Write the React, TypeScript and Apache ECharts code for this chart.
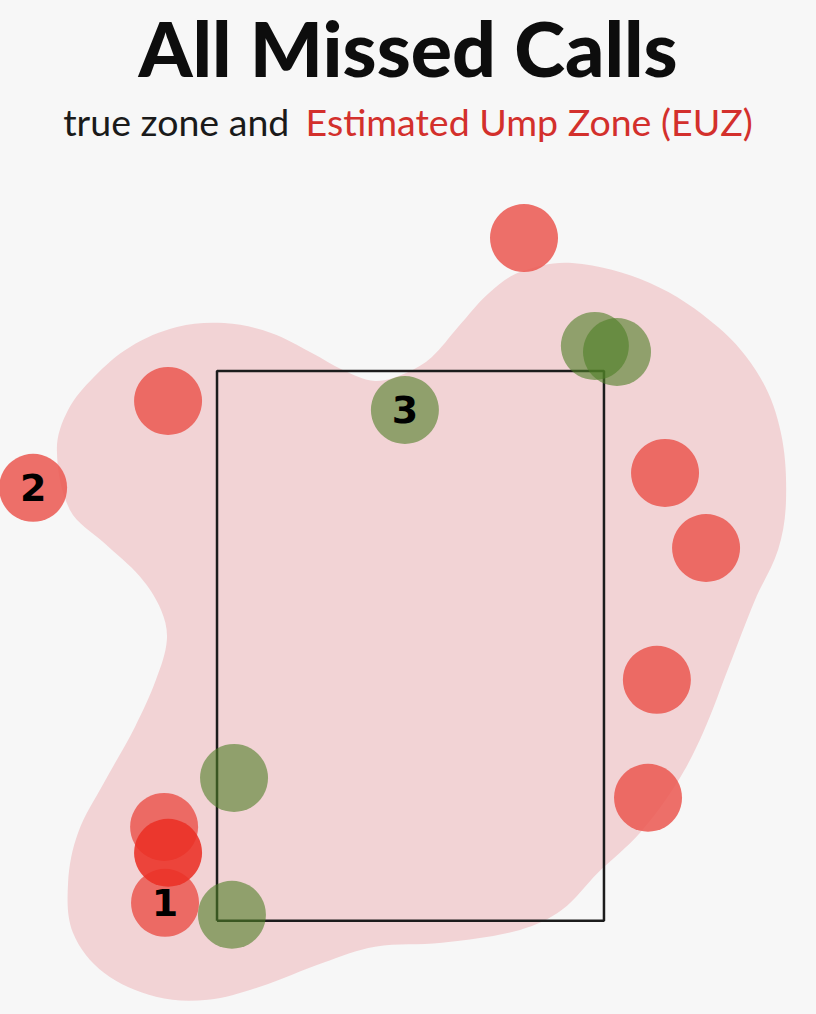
import React, { useEffect, useRef } from "react";
import * as echarts from "echarts";

// Estimated Ump Zone outline (plate x in ft, height in ft)
const euzX = [0.693, 1.027, 1.319, 1.499, 1.589, 1.611, 1.577, 1.478, 1.366, 1.255, 1.143, 0.985, 0.804, 0.650, 0.470, 0.135, -0.152, -0.375, -0.646, -0.869, -1.092, -1.315, -1.448, -1.469, -1.426, -1.315, -1.182, -1.092, -1.045, -1.070, -1.160, -1.315, -1.461, -1.517, -1.469, -1.358, -1.203, -1.002, -0.800, -0.598, -0.423, -0.290, -0.152, -0.019, 0.092, 0.204, 0.337, 0.470];
const euzY = [4.323, 4.237, 4.048, 3.834, 3.594, 3.306, 3.092, 2.877, 2.590, 2.307, 2.092, 1.878, 1.706, 1.547, 1.461, 1.406, 1.389, 1.320, 1.217, 1.161, 1.174, 1.277, 1.449, 1.663, 1.878, 2.092, 2.332, 2.534, 2.706, 2.834, 2.976, 3.122, 3.263, 3.521, 3.692, 3.834, 3.963, 4.048, 4.065, 4.023, 3.937, 3.864, 3.817, 3.851, 3.920, 4.048, 4.194, 4.284];

// True strike zone corners
const zoneX = [-0.83, 0.83];
const zoneY = [1.5, 3.86];

// Missed calls: called strikes outside zone (red)
const redX = [0.487, -1.040, -1.619, 1.092, 1.268, 1.057, 1.019, -1.057, -1.053, -1.040];
const redY = [4.430, 3.731, 3.358, 3.422, 3.100, 2.534, 2.028, 1.903, 1.577, 1.792];
const redLabels = ["", "", "2", "", "", "", "", "", "1", ""];
const redBright = [false, false, false, false, false, false, false, false, false, true];

// Missed calls: called balls inside zone (green)
const greenX = [0.791, 0.886, -0.024, -0.757, -0.766];
const greenY = [3.967, 3.941, 3.692, 2.113, 1.526];
const greenLabels = ["", "", "3", "", ""];

export default function App() {
  const ref = useRef<HTMLDivElement>(null);
  useEffect(() => {
    document.body.style.margin = "0";
    if (!ref.current) return;
    const chart = echarts.init(ref.current, undefined, { renderer: "svg" });
    const labelStyle = {
      position: "inside",
      formatter: (p: any) => p.data.lbl,
      fontFamily: "DejaVu Sans",
      fontWeight: "bold",
      fontSize: 38,
      color: "#000",
      opacity: 1,
    };
    const redData = redX.map((x, i) => ({
      value: [x, redY[i]],
      lbl: redLabels[i],
      label: { show: redLabels[i] !== "" },
      itemStyle: redBright[i]
        ? { color: "rgb(234,48,38)", opacity: 0.88 }
        : undefined,
    }));
    const greenData = greenX.map((x, i) => ({
      value: [x, greenY[i]],
      lbl: greenLabels[i],
      label: { show: greenLabels[i] !== "" },
    }));
    const rect = [
      [zoneX[0], zoneY[0]],
      [zoneX[1], zoneY[0]],
      [zoneX[1], zoneY[1]],
      [zoneX[0], zoneY[1]],
      [zoneX[0], zoneY[0]],
    ];
    chart.setOption({
      animation: false,
      backgroundColor: "#f7f7f7",
      title: {
        text: "All Missed Calls",
        left: "center",
        top: 3,
        itemGap: 17,
        textStyle: {
          fontFamily: "Lato",
          fontWeight: 900,
          fontSize: 77,
          color: "#0d0d0d",
        },
        subtext: "{a|true zone and }  {b|Estimated Ump Zone (EUZ)}",
        subtextStyle: {
          rich: {
            a: { fontFamily: "Lato", fontSize: 37.5, color: "#1a1a1a" },
            b: { fontFamily: "Lato", fontSize: 37.5, color: "#d3302c" },
          },
        },
      },
      grid: { left: 0, right: 0, top: 160, bottom: 0 },
      xAxis: { type: "value", min: -1.761, max: 1.7396, show: false },
      yAxis: { type: "value", min: 1.1, max: 4.765, show: false },
      series: [
        {
          type: "custom",
          z: 1,
          clip: false,
          data: [[0, 0]],
          renderItem: (_p: any, api: any) => ({
            type: "polygon",
            shape: {
              points: euzX.map((x, i) => api.coord([x, euzY[i]])),
              smooth: 0.35,
            },
            style: { fill: "#f2d3d5" },
          }),
        },
        {
          type: "line",
          z: 2,
          data: rect,
          symbol: "none",
          lineStyle: { color: "#1c1c1c", width: 2.5 },
        },
        {
          type: "scatter",
          z: 3,
          symbolSize: 68,
          data: redData,
          itemStyle: { color: "rgb(235,87,80)", opacity: 0.85 },
          label: labelStyle,
        },
        {
          type: "scatter",
          z: 4,
          symbolSize: 68,
          data: greenData,
          itemStyle: { color: "rgb(78,127,39)", opacity: 0.6 },
          label: labelStyle,
        },
      ],
    });
    return () => chart.dispose();
  }, []);
  return (
    <div
      ref={ref}
      style={{ position: "absolute", left: 0, top: 0, width: 816, height: 1014 }}
    />
  );
}
